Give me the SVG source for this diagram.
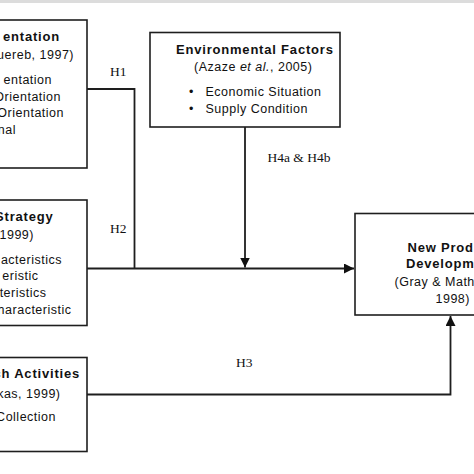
<svg xmlns="http://www.w3.org/2000/svg" width="474" height="474" viewBox="0 0 474 474">
<style>
.box{fill:#ffffff;stroke:#1e1e1e;stroke-width:1.6}
.title{font-family:"Liberation Sans",Arial,sans-serif;font-weight:bold;font-size:13px;letter-spacing:0.8px;fill:#111}
.body{font-family:"Liberation Sans",Arial,sans-serif;font-size:12.5px;letter-spacing:0.5px;fill:#111}
.lbl{font-family:"Liberation Serif","Times New Roman",serif;font-size:13.5px;fill:#111}
.con{fill:none;stroke:#1e1e1e;stroke-width:1.8}
.end{text-anchor:end}
</style>
<defs>
<marker id="arr" markerUnits="userSpaceOnUse" markerWidth="11" markerHeight="11" refX="10" refY="5" orient="auto">
<path d="M0,0 L10,5 L0,10 z" fill="#111"/>
</marker>
</defs>
<rect x="0" y="0" width="474" height="474" fill="#ffffff"/>
<rect x="0" y="0" width="474" height="3" fill="#dcdcdc"/>

<g id="connectors">
<path class="con" d="M87,89 H134.5 V268.5"/>
<path class="con" d="M87,268.5 H354" marker-end="url(#arr)"/>
<path class="con" d="M245,127 V267.5" marker-end="url(#arr)"/>
<path class="con" d="M87,394.5 H450.5 V316" marker-end="url(#arr)"/>
<text class="lbl" x="110" y="75.5">H1</text>
<text class="lbl" x="110" y="232.5">H2</text>
<text class="lbl" x="267.5" y="162">H4a &amp; H4b</text>
<text class="lbl" x="236" y="367">H3</text>
</g>

<g id="market-orientation">
<rect class="box" x="-10" y="20" width="97" height="148"/>
<text class="title end" x="60" y="40.5">entation</text>
<text class="body end" x="74" y="58.5">uereb, 1997)</text>
<text class="body end" x="52" y="83.5">entation</text>
<text class="body end" x="61" y="100.5">Orientation</text>
<text class="body end" x="64" y="116.5">Orientation</text>
<text class="body end" x="16" y="133.5">nal</text>
</g>

<g id="environmental-factors">
<rect class="box" x="150" y="32.5" width="190" height="94.5"/>
<text class="title" x="176" y="54">Environmental Factors</text>
<text class="body" x="194" y="71">(Azaze <tspan font-style="italic">et al.</tspan>, 2005)</text>
<text class="body" x="189" y="96">•</text>
<text class="body" x="205.5" y="96">Economic Situation</text>
<text class="body" x="189" y="113">•</text>
<text class="body" x="205.5" y="113">Supply Condition</text>
</g>

<g id="strategy">
<rect class="box" x="-10" y="200" width="97" height="125.5"/>
<text class="title end" x="53.5" y="220.5">Strategy</text>
<text class="body end" x="34" y="238.5">1999)</text>
<text class="body end" x="62" y="263.5">acteristics</text>
<text class="body end" x="38.5" y="280">eristic</text>
<text class="body end" x="46.5" y="296.5">teristics</text>
<text class="body end" x="71.5" y="313.5">haracteristic</text>
</g>

<g id="activities">
<rect class="box" x="-10" y="357.5" width="97" height="94"/>
<text class="title end" x="80" y="377.5">ch Activities</text>
<text class="body end" x="60.5" y="397.5">kas, 1999)</text>
<text class="body end" x="56" y="421">Collection</text>
</g>

<g id="new-product-development">
<rect class="box" x="355" y="213.5" width="130" height="101.5"/>
<text class="title" x="407.5" y="252">New Prod</text>
<text class="title" x="406" y="267.5">Developm</text>
<text class="body" x="394.5" y="285.5">(Gray &amp; Math</text>
<text class="body" x="435.5" y="303">1998)</text>
</g>
</svg>
